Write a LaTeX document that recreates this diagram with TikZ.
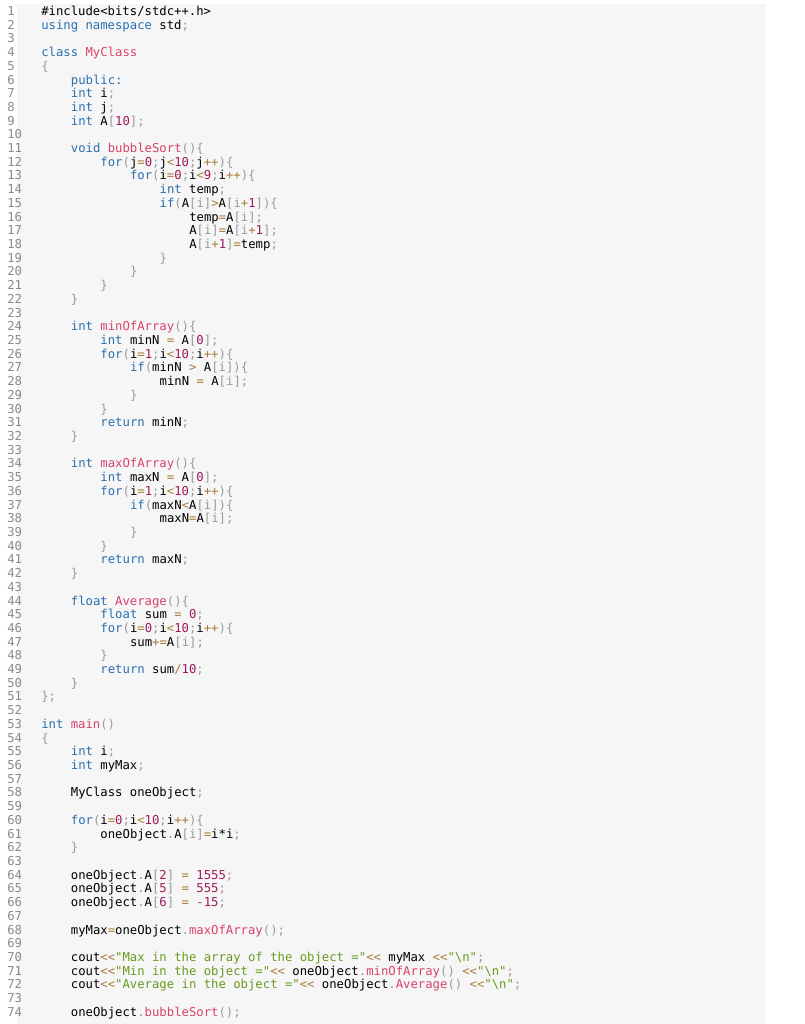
\documentclass[tikz,border=0pt]{standalone}
\usepackage{fontspec}
\setmonofont{DejaVu Sans Mono}
\definecolor{bg}{HTML}{F6F6F6}
\definecolor{kw}{HTML}{2A6FAE}
\definecolor{fn}{HTML}{D9436A}
\definecolor{nu}{HTML}{9E1A5C}
\definecolor{op}{HTML}{A67C3A}
\definecolor{pu}{HTML}{9A9A9A}
\definecolor{st}{HTML}{6A9A1F}
\definecolor{ln}{HTML}{8A8A8A}
\newcommand\K[1]{\textcolor{kw}{#1}}
\newcommand\F[1]{\textcolor{fn}{#1}}
\newcommand\N[1]{\textcolor{nu}{#1}}
\newcommand\Op[1]{\textcolor{op}{#1}}
\newcommand\Pu[1]{\textcolor{pu}{#1}}
\newcommand\St[1]{\textcolor{st}{#1}}
\newcommand\Ln[3]{\node[codeline] (l#1) at ({41+7.4*#2},{12+13.71*(#1-1)}) {#3};}
\begin{document}
\begin{tikzpicture}[x=0.75pt,y=-0.75pt,
  codeline/.style={anchor=west,inner sep=0pt,font=\ttfamily\fontsize{9.2}{10}\selectfont,text height=6.8pt,text depth=1.6pt,text=black},
  lnum/.style={anchor=west,inner sep=0pt,font=\ttfamily\fontsize{9.2}{10}\selectfont,text height=6.8pt,text depth=1.6pt,text=ln}]
\useasboundingbox (0,0) rectangle (804,1024);
\fill[bg] (17,4) rectangle (766,1024) node[coordinate] (panel) {};
\foreach \n in {1,...,74} \node[lnum] (n\n) at (4+3*1,{12+13.71*(\n-1)}) {\n};
\Ln{1}{0}{\#include<bits/stdc++.h>}
\Ln{2}{0}{\K{using namespace} std\Pu{;}}
\Ln{4}{0}{\K{class} \F{MyClass}}
\Ln{5}{0}{\Pu{\{}}
\Ln{6}{4}{\K{public:}}
\Ln{7}{4}{\K{int} i\Pu{;}}
\Ln{8}{4}{\K{int} j\Pu{;}}
\Ln{9}{4}{\K{int} A\Pu{[}\N{10}\Pu{];}}
\Ln{11}{4}{\K{void} \F{bubbleSort}\Pu{()\{}}
\Ln{12}{8}{\K{for}\Pu{(}j\Op{=}\N{0}\Pu{;}j\Op{<}\N{10}\Pu{;}j\Op{++}\Pu{)\{}}
\Ln{13}{12}{\K{for}\Pu{(}i\Op{=}\N{0}\Pu{;}i\Op{<}\N{9}\Pu{;}i\Op{++}\Pu{)\{}}
\Ln{14}{16}{\K{int} temp\Pu{;}}
\Ln{15}{16}{\K{if}\Pu{(}A\Pu{[i]}\Op{>}A\Pu{[i}\Op{+}\N{1}\Pu{])\{}}
\Ln{16}{20}{temp\Op{=}A\Pu{[i];}}
\Ln{17}{20}{A\Pu{[i]}\Op{=}A\Pu{[i}\Op{+}\N{1}\Pu{];}}
\Ln{18}{20}{A\Pu{[i}\Op{+}\N{1}\Pu{]}\Op{=}temp\Pu{;}}
\Ln{19}{16}{\Pu{\}}}
\Ln{20}{12}{\Pu{\}}}
\Ln{21}{8}{\Pu{\}}}
\Ln{22}{4}{\Pu{\}}}
\Ln{24}{4}{\K{int} \F{minOfArray}\Pu{()\{}}
\Ln{25}{8}{\K{int} minN \Op{=} A\Pu{[}\N{0}\Pu{];}}
\Ln{26}{8}{\K{for}\Pu{(}i\Op{=}\N{1}\Pu{;}i\Op{<}\N{10}\Pu{;}i\Op{++}\Pu{)\{}}
\Ln{27}{12}{\K{if}\Pu{(}minN \Op{>} A\Pu{[i])\{}}
\Ln{28}{16}{minN \Op{=} A\Pu{[i];}}
\Ln{29}{12}{\Pu{\}}}
\Ln{30}{8}{\Pu{\}}}
\Ln{31}{8}{\K{return} minN\Pu{;}}
\Ln{32}{4}{\Pu{\}}}
\Ln{34}{4}{\K{int} \F{maxOfArray}\Pu{()\{}}
\Ln{35}{8}{\K{int} maxN \Op{=} A\Pu{[}\N{0}\Pu{];}}
\Ln{36}{8}{\K{for}\Pu{(}i\Op{=}\N{1}\Pu{;}i\Op{<}\N{10}\Pu{;}i\Op{++}\Pu{)\{}}
\Ln{37}{12}{\K{if}\Pu{(}maxN\Op{<}A\Pu{[i])\{}}
\Ln{38}{16}{maxN\Op{=}A\Pu{[i];}}
\Ln{39}{12}{\Pu{\}}}
\Ln{40}{8}{\Pu{\}}}
\Ln{41}{8}{\K{return} maxN\Pu{;}}
\Ln{42}{4}{\Pu{\}}}
\Ln{44}{4}{\K{float} \F{Average}\Pu{()\{}}
\Ln{45}{8}{\K{float} sum \Op{=} \N{0}\Pu{;}}
\Ln{46}{8}{\K{for}\Pu{(}i\Op{=}\N{0}\Pu{;}i\Op{<}\N{10}\Pu{;}i\Op{++}\Pu{)\{}}
\Ln{47}{12}{sum\Op{+=}A\Pu{[i];}}
\Ln{48}{8}{\Pu{\}}}
\Ln{49}{8}{\K{return} sum\Op{/}\N{10}\Pu{;}}
\Ln{50}{4}{\Pu{\}}}
\Ln{51}{0}{\Pu{\};}}
\Ln{53}{0}{\K{int} \F{main}\Pu{()}}
\Ln{54}{0}{\Pu{\{}}
\Ln{55}{4}{\K{int} i\Pu{;}}
\Ln{56}{4}{\K{int} myMax\Pu{;}}
\Ln{58}{4}{MyClass oneObject\Pu{;}}
\Ln{60}{4}{\K{for}\Pu{(}i\Op{=}\N{0}\Pu{;}i\Op{<}\N{10}\Pu{;}i\Op{++}\Pu{)\{}}
\Ln{61}{8}{oneObject\Pu{.}A\Pu{[i]}\Op{=}i*i\Pu{;}}
\Ln{62}{4}{\Pu{\}}}
\Ln{64}{4}{oneObject\Pu{.}A\Pu{[}\N{2}\Pu{]} \Op{=} \N{1555}\Pu{;}}
\Ln{65}{4}{oneObject\Pu{.}A\Pu{[}\N{5}\Pu{]} \Op{=} \N{555}\Pu{;}}
\Ln{66}{4}{oneObject\Pu{.}A\Pu{[}\N{6}\Pu{]} \Op{=} \N{-15}\Pu{;}}
\Ln{68}{4}{myMax\Op{=}oneObject\Pu{.}\F{maxOfArray}\Pu{();}}
\Ln{70}{4}{cout\Op{<<}\St{"Max in the array of the object ="}\Op{<<} myMax \Op{<<}\St{"\textbackslash n"}\Pu{;}}
\Ln{71}{4}{cout\Op{<<}\St{"Min in the object ="}\Op{<<} oneObject\Pu{.}\F{minOfArray}\Pu{()} \Op{<<}\St{"\textbackslash n"}\Pu{;}}
\Ln{72}{4}{cout\Op{<<}\St{"Average in the object ="}\Op{<<} oneObject\Pu{.}\F{Average}\Pu{()} \Op{<<}\St{"\textbackslash n"}\Pu{;}}
\Ln{74}{4}{oneObject\Pu{.}\F{bubbleSort}\Pu{();}}
\end{tikzpicture}
\end{document}
